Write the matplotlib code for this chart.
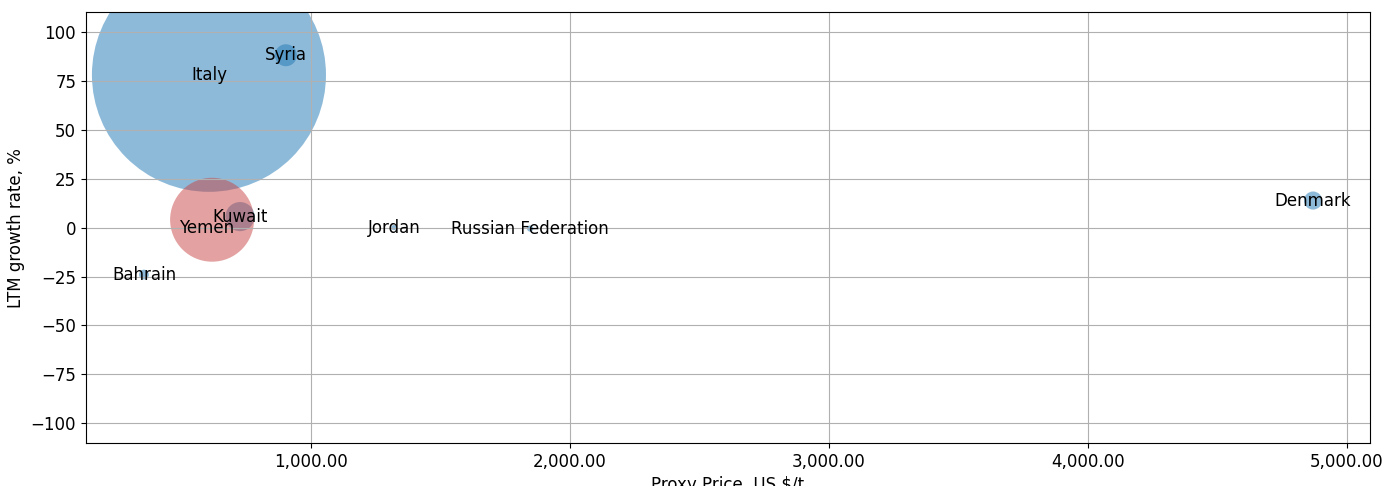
import numpy as np
import matplotlib

matplotlib.use('Agg')
import matplotlib.pyplot as plt
from matplotlib.ticker import FuncFormatter

countries = ["Italy", "Syria", "Kuwait", "Bahrain", "Jordan",
             "Russian Federation", "Denmark", "Yemen"]
price = [606, 903, 726, 355, 1320, 1846, 4869, 618]
growth = [78, 88, 5.6, -24, 0, -0.5, 13.8, 4]
bubble = [28400, 250, 440, 50, 14, 20, 170, 3650]
colors = ["tab:blue", "tab:blue", "tab:blue", "tab:blue", "tab:blue",
          "tab:blue", "tab:blue", "#c84444"]
# label nudges in points (only Yemen is off its bubble)
label_off = [(0, 0), (0, 0), (0, 0), (0, 0), (0, 0), (0, 0), (0, 0), (-4, -6)]

fig = plt.figure(figsize=(13.86, 4.86), dpi=100)
ax = fig.add_axes([0.062, 0.0885, 0.9265, 0.8865])

ax.scatter(price, growth, s=bubble, c=colors, alpha=0.5, linewidths=0)

for name, x, y, off in zip(countries, price, growth, label_off):
    ax.annotate(name, (x, y), xytext=off, textcoords='offset points',
                ha='center', va='center', fontsize=12)

ax.set_xlim(131, 5089)
ax.set_ylim(-110, 110)
ax.set_yticks(np.arange(-100, 101, 25))
ax.xaxis.set_major_formatter(FuncFormatter(lambda v, p: '{:,.2f}'.format(v)))
ax.tick_params(labelsize=12)
ax.set_xlabel('Proxy Price, US $/t', fontsize=12)
ax.set_ylabel('LTM growth rate, %', fontsize=12)
ax.grid(True, color='#b0b0b0', linewidth=0.8)

fig.savefig('out.png', dpi=100)
